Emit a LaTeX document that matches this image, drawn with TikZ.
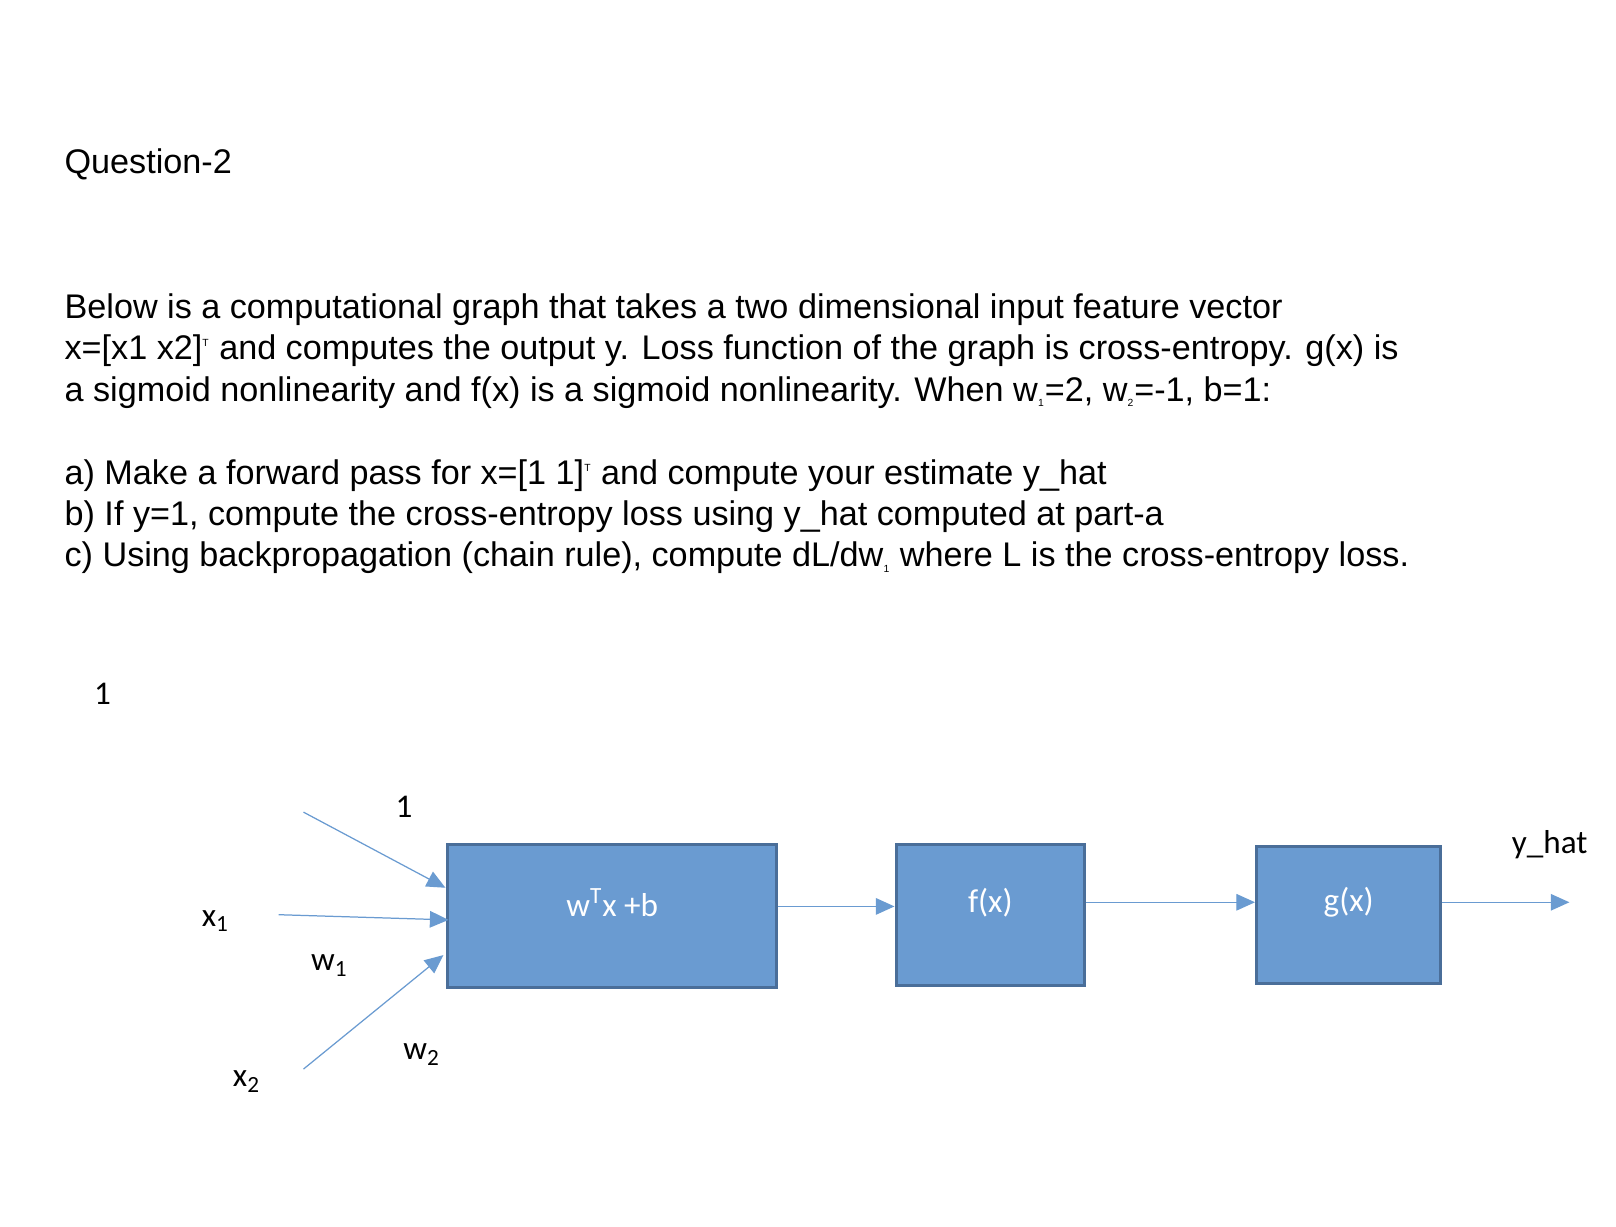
\documentclass[tikz,border=0pt]{standalone}
\usepackage{fontspec}
\setmainfont{Liberation Sans}
\newfontfamily\carlitofont{Carlito}
\usetikzlibrary{arrows.meta}
\definecolor{boxfill}{HTML}{6A9BD1}
\definecolor{boxedge}{HTML}{4A6E99}
\definecolor{arr}{HTML}{6A9BD1}
\begin{document}
\begin{tikzpicture}[x=0.5pt,y=-0.5pt,
  para/.style={anchor=north west,inner sep=0pt,font=\fontsize{16.5}{20}\selectfont,align=left},
  blk/.style={draw=boxedge,line width=1.5pt,fill=boxfill,text=white,font=\carlitofont\fontsize{16}{18}\selectfont,inner sep=0pt},
  lbl/.style={font=\carlitofont\fontsize{16}{18}\selectfont,inner sep=0pt},
  conn/.style={draw=arr,line width=0.6pt,-{Triangle[length=9pt,width=8pt]}}]
\useasboundingbox (0,0) rectangle (1560,1184);
\node[para] (q) at (62,143) {Question-2};
\node[para] (t) at (62,283) {Below is a computational graph that takes a two dimensional input feature vector\\
x=[x1 x2]\textsuperscript{\tiny T} and computes the output y. Loss function of the graph is cross-entropy. g(x) is\\
a sigmoid nonlinearity and f(x) is a sigmoid nonlinearity. When w\textsubscript{\tiny 1}=2, w\textsubscript{\tiny 2}=-1, b=1:\\[20pt]
a) Make a forward pass for x=[1 1]\textsuperscript{\tiny T} and compute your estimate y\_hat\\
b) If y=1, compute the cross-entropy loss using y\_hat computed at part-a\\
c) Using backpropagation (chain rule), compute dL/dw\textsubscript{\tiny 1} where L is the cross-entropy loss.};
\node[blk,minimum width=159pt,minimum height=69pt] (s) at (591,884) {};
\node[lbl,text=white] at (591,871) {w\textsuperscript{T}x +b};
\node[blk,minimum width=91pt,minimum height=68pt] (f) at (956,883) {};
\node[lbl,text=white] at (956,871) {f(x)};
\node[blk,minimum width=89pt,minimum height=66pt] (g) at (1302,883) {};
\node[lbl,text=white] at (1302,871) {g(x)};
\coordinate (a1) at (293,784);
\coordinate (a2) at (269,883);
\coordinate (a3) at (293,1032);
\coordinate (o) at (1515,871);
\draw[conn] (a1) -- (430,857);
\draw[conn] (a2) -- (433,888);
\draw[conn] (a3) -- (428,922);
\draw[conn] (s.east|-0,875) -- (f.west|-0,875);
\draw[conn] (f.east|-0,871) -- (g.west|-0,871);
\draw[conn] (g.east|-0,871) -- (o);
\node[lbl] (n1) at (99,670) {1};
\node[lbl] (n2) at (390,779) {1};
\node[lbl] (x1) at (208,889) {x\textsubscript{1}};
\node[lbl] (w1) at (318,932) {w\textsubscript{1}};
\node[lbl] (w2) at (407,1018) {w\textsubscript{2}};
\node[lbl] (x2) at (238,1044) {x\textsubscript{2}};
\node[lbl] (yh) at (1496,815) {y\_hat};
\end{tikzpicture}
\end{document}
